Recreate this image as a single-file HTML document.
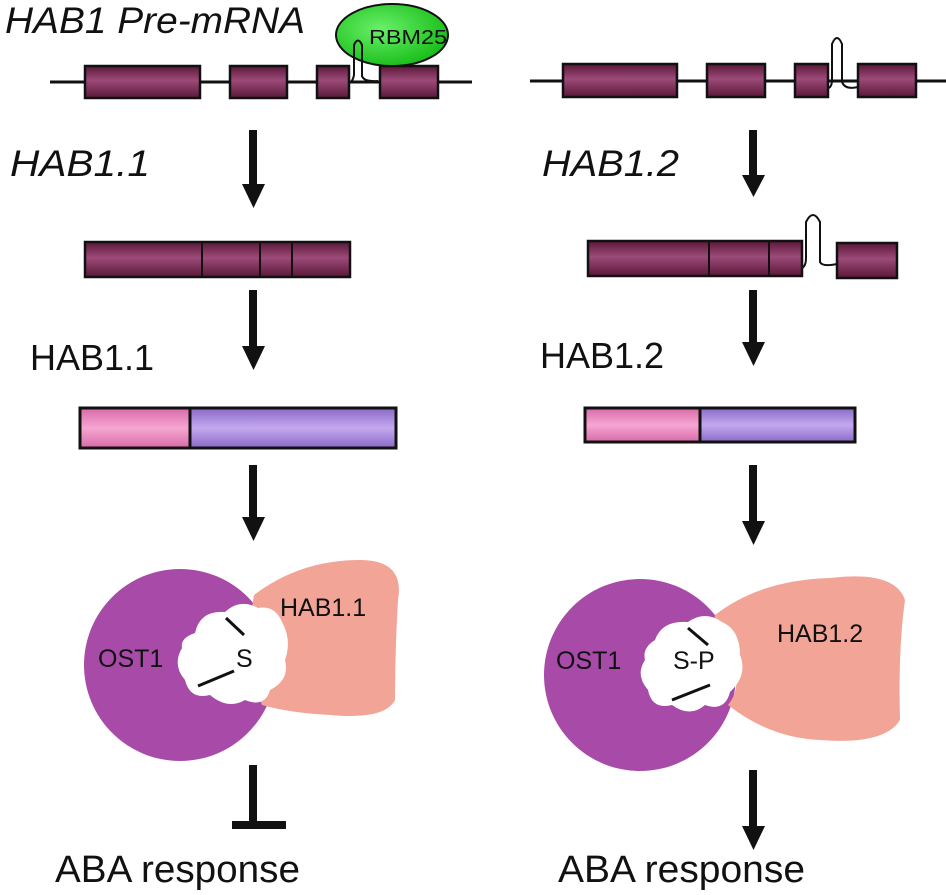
<!DOCTYPE html>
<html><head><style>html,body{margin:0;padding:0;background:#fff}svg{display:block}</style></head>
<body>
<svg width="946" height="895" viewBox="0 0 946 895" xmlns="http://www.w3.org/2000/svg" font-family="Liberation Sans, Arial, sans-serif">
<defs>
<linearGradient id="ex" x1="0" y1="0" x2="0" y2="1">
<stop offset="0" stop-color="#5a1838"/><stop offset="0.45" stop-color="#9c4a78"/><stop offset="1" stop-color="#5a1838"/></linearGradient>
<linearGradient id="pk" x1="0" y1="0" x2="0" y2="1">
<stop offset="0" stop-color="#d86aa8"/><stop offset="0.5" stop-color="#f6a6d2"/><stop offset="1" stop-color="#d86aa8"/></linearGradient>
<linearGradient id="pu" x1="0" y1="0" x2="0" y2="1">
<stop offset="0" stop-color="#8a6ac8"/><stop offset="0.5" stop-color="#c4a8ee"/><stop offset="1" stop-color="#8a6ac8"/></linearGradient>
<radialGradient id="gr" cx="0.4" cy="0.4" r="0.7"><stop offset="0" stop-color="#6af06a"/><stop offset="1" stop-color="#10b810"/></radialGradient>
</defs>
<g stroke="#111" stroke-width="3">
<line x1="50" y1="82" x2="472" y2="82"/>
<g fill="url(#ex)" stroke-width="2.5">
<rect x="85" y="66" width="115" height="32"/><rect x="230" y="66" width="57" height="32"/><rect x="317" y="66" width="32" height="32"/><rect x="380" y="66" width="58" height="32"/>
</g>
<ellipse cx="392" cy="35" rx="56" ry="31" fill="url(#gr)" stroke-width="2"/>
<path d="M351 82 Q353 80 354 75 L354 45 Q358 36 362 45 L362 76 Q364 82 378 81" fill="none" stroke-width="2"/>
<line x1="530" y1="81" x2="946" y2="81"/>
<g fill="url(#ex)" stroke-width="2.5">
<rect x="563" y="64" width="114" height="33"/><rect x="707" y="64" width="58" height="33"/><rect x="795" y="64" width="33" height="33"/><rect x="858" y="64" width="58" height="33"/>
</g>
<path d="M829 88 Q832 86 832 80 L832 44 Q837 32 842 44 L842 82 Q845 90 858 87" fill="none" stroke-width="2"/>
<g fill="url(#ex)" stroke-width="2.5">
<rect x="85" y="242" width="265" height="35"/>
<rect x="588" y="241" width="214" height="35"/>
<rect x="837" y="243" width="60" height="35"/>
</g>
<line x1="202" y1="242" x2="202" y2="277" stroke-width="2"/><line x1="260" y1="242" x2="260" y2="277" stroke-width="2"/><line x1="292" y1="242" x2="292" y2="277" stroke-width="2"/>
<line x1="709" y1="241" x2="709" y2="276" stroke-width="2"/><line x1="769" y1="241" x2="769" y2="276" stroke-width="2"/>
<path d="M802 268 Q806 266 806 258 L806 222 Q813 208 820 222 L820 262 Q822 267 837 264" fill="none" stroke-width="2"/>
<rect x="80" y="408" width="110" height="40" fill="url(#pk)"/><rect x="190" y="408" width="206" height="40" fill="url(#pu)"/>
<rect x="585" y="408" width="115" height="34" fill="url(#pk)"/><rect x="700" y="408" width="155" height="34" fill="url(#pu)"/>
</g>
<g fill="#111">
<rect x="249" y="130" width="8" height="56"/><polygon points="242,184 265,184 253.5,208"/>
<rect x="249" y="290" width="8" height="58"/><polygon points="242,346 265,346 253.5,370"/>
<rect x="249" y="465" width="8" height="54"/><polygon points="242,517 265,517 253.5,541"/>
<rect x="249" y="765" width="8" height="60"/><rect x="232" y="821" width="54" height="8"/>
<rect x="749" y="130" width="8" height="47"/><polygon points="742,175 765,175 753.5,197"/>
<rect x="749" y="290" width="8" height="54"/><polygon points="742,342 765,342 753.5,366"/>
<rect x="749" y="465" width="8" height="58"/><polygon points="742,521 765,521 753.5,545"/>
<rect x="749" y="770" width="8" height="58"/><polygon points="742,826 765,826 753.5,850"/>
</g>
<circle cx="180" cy="665" r="96" fill="#a84aa8"/>
<path d="M254 595 Q300 560 360 560 Q405 560 398 600 Q395 650 395 700 Q385 720 330 715 Q290 713 262 705 Q255 690 262 665 Q265 640 250 620 Z" fill="#f2a497"/>
<path d="M195 633 Q200 610 225 612 Q240 598 258 608 Q275 605 282 622 Q292 640 285 660 Q290 680 270 690 Q265 708 245 700 Q228 710 210 695 Q190 700 185 680 Q172 665 182 648 Q180 638 195 633 Z" fill="#fff"/>
<line x1="226" y1="618" x2="244" y2="635" stroke="#111" stroke-width="3"/>
<line x1="198" y1="686" x2="234" y2="671" stroke="#111" stroke-width="3"/>
<circle cx="640" cy="675" r="96" fill="#a84aa8"/>
<path d="M715 615 Q760 580 830 578 Q895 570 905 600 Q898 650 900 720 Q885 745 820 740 Q770 738 728 705 Q740 690 735 670 Q740 640 712 630 Z" fill="#f2a497"/>
<path d="M655 640 Q662 620 688 622 Q705 610 722 622 Q740 630 740 655 Q748 675 730 692 Q725 712 705 705 Q690 718 672 705 Q652 710 648 690 Q635 675 645 660 Q642 648 655 640 Z" fill="#fff"/>
<line x1="688" y1="628" x2="708" y2="645" stroke="#111" stroke-width="3"/>
<line x1="672" y1="700" x2="710" y2="685" stroke="#111" stroke-width="3"/>
<g fill="#111">
<text x="5" y="33" font-size="37" font-style="italic" textLength="300" lengthAdjust="spacingAndGlyphs">HAB1 Pre-mRNA</text>
<text x="369" y="44" font-size="20" textLength="78" lengthAdjust="spacingAndGlyphs">RBM25</text>
<text x="10" y="176" font-size="37" font-style="italic" textLength="140" lengthAdjust="spacingAndGlyphs">HAB1.1</text>
<text x="542" y="176" font-size="37" font-style="italic" textLength="137" lengthAdjust="spacingAndGlyphs">HAB1.2</text>
<text x="30" y="370" font-size="36">HAB1.1</text>
<text x="540" y="368" font-size="36">HAB1.2</text>
<text x="280" y="616" font-size="25">HAB1.1</text>
<text x="98" y="667" font-size="25">OST1</text>
<text x="236" y="667" font-size="25">S</text>
<text x="777" y="642" font-size="25">HAB1.2</text>
<text x="556" y="669" font-size="25">OST1</text>
<text x="673" y="669" font-size="25">S-P</text>
<text x="55" y="882" font-size="38" textLength="245" lengthAdjust="spacingAndGlyphs">ABA response</text>
<text x="558" y="882" font-size="38" textLength="247" lengthAdjust="spacingAndGlyphs">ABA response</text>
</g>
</svg>
</body></html>
